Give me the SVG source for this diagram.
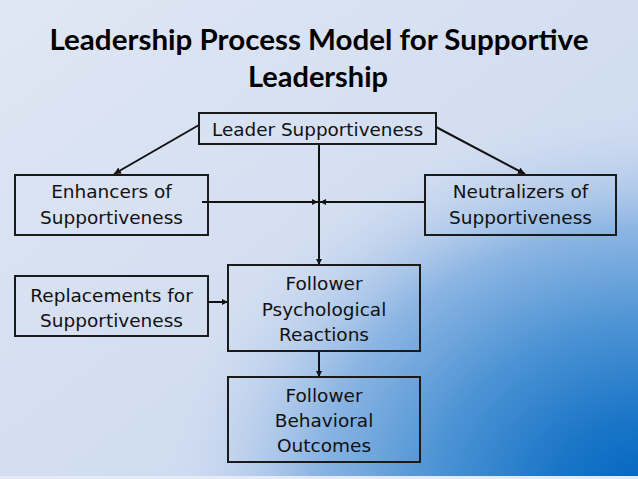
<svg xmlns="http://www.w3.org/2000/svg" width="638" height="479" viewBox="0 0 638 479">
<defs>
  <linearGradient id="base" x1="0" y1="0" x2="1" y2="1">
    <stop offset="0" stop-color="#e0e7f4"/>
    <stop offset="1" stop-color="#c6d5ee"/>
  </linearGradient>
  <radialGradient id="blue" gradientUnits="userSpaceOnUse" cx="0" cy="0" r="1" gradientTransform="translate(650 495) scale(480 380)">
    <stop offset="0" stop-color="#0064be" stop-opacity="1"/>
    <stop offset="0.2" stop-color="#1a75c7" stop-opacity="1"/>
    <stop offset="0.45" stop-color="#4c93d4" stop-opacity="1"/>
    <stop offset="0.7" stop-color="#88b3e2" stop-opacity="0.95"/>
    <stop offset="1" stop-color="#c6d5ee" stop-opacity="0"/>
  </radialGradient>
  <marker id="ah" viewBox="0 0 10 10" refX="10" refY="5" markerWidth="6" markerHeight="6" orient="auto" markerUnits="userSpaceOnUse">
    <path d="M0,0 L10,5 L0,10 z" fill="#111"/>
  </marker>
  <marker id="ahs" viewBox="0 0 10 10" refX="10" refY="5" markerWidth="7" markerHeight="7" orient="auto" markerUnits="userSpaceOnUse">
    <path d="M0,0 L10,5 L0,10 z" fill="#111"/>
  </marker>
  <style>
    .box { fill: none; stroke: #1a1a1a; stroke-width: 2; }
    .lbl { font-family: "DejaVu Sans", Tahoma, Verdana, sans-serif; font-size: 18.5px; fill: #111; text-anchor: middle; }
    .title { font-family: Lato, "Open Sans", "Liberation Sans", sans-serif; font-weight: bold; font-size: 28px; fill: #000; text-anchor: middle; }
    .conn line { stroke: #111; stroke-width: 2; }
  </style>
</defs>
<rect width="638" height="479" fill="url(#base)"/>
<rect width="638" height="479" fill="url(#blue)"/>
<rect x="0" y="476" width="638" height="3" fill="#e4eaf5"/>

<g id="title">
  <text class="title" x="319" y="50" textLength="539" lengthAdjust="spacingAndGlyphs">Leadership Process Model for Supportive</text>
  <text class="title" x="318" y="87" textLength="140" lengthAdjust="spacingAndGlyphs">Leadership</text>
</g>

<g id="connectors" class="conn">
  <line x1="199" y1="125" x2="114" y2="174" marker-end="url(#ahs)"/>
  <line x1="436" y1="127" x2="525" y2="174" marker-end="url(#ahs)"/>
  <line x1="319" y1="143" x2="319" y2="265" marker-end="url(#ah)"/>
  <line x1="202" y1="202" x2="318" y2="202" marker-end="url(#ah)"/>
  <line x1="425" y1="202" x2="320" y2="202" marker-end="url(#ah)"/>
  <line x1="208" y1="302" x2="228" y2="302" marker-end="url(#ah)"/>
  <line x1="319" y1="351" x2="319" y2="377" marker-end="url(#ah)"/>
</g>

<g id="leader">
  <rect class="box" x="199" y="113" width="237" height="31"/>
  <text class="lbl" x="317.5" y="136" textLength="211" lengthAdjust="spacingAndGlyphs">Leader Supportiveness</text>
</g>
<g id="enhancers">
  <rect class="box" x="15" y="175" width="193" height="60"/>
  <text class="lbl" x="111.5" y="198">Enhancers of</text>
  <text class="lbl" x="111.5" y="224">Supportiveness</text>
</g>
<g id="neutralizers">
  <rect class="box" x="425" y="175" width="191" height="60"/>
  <text class="lbl" x="520.5" y="198">Neutralizers of</text>
  <text class="lbl" x="520.5" y="224">Supportiveness</text>
</g>
<g id="replacements">
  <rect class="box" x="15" y="276" width="193" height="60"/>
  <text class="lbl" x="111.5" y="302">Replacements for</text>
  <text class="lbl" x="111.5" y="327">Supportiveness</text>
</g>
<g id="psych">
  <rect class="box" x="228" y="265" width="192" height="86"/>
  <text class="lbl" x="324" y="290">Follower</text>
  <text class="lbl" x="324" y="316">Psychological</text>
  <text class="lbl" x="324" y="341">Reactions</text>
</g>
<g id="behavioral">
  <rect class="box" x="228" y="377" width="192" height="85"/>
  <text class="lbl" x="324" y="402">Follower</text>
  <text class="lbl" x="324" y="427">Behavioral</text>
  <text class="lbl" x="324" y="452">Outcomes</text>
</g>
</svg>
